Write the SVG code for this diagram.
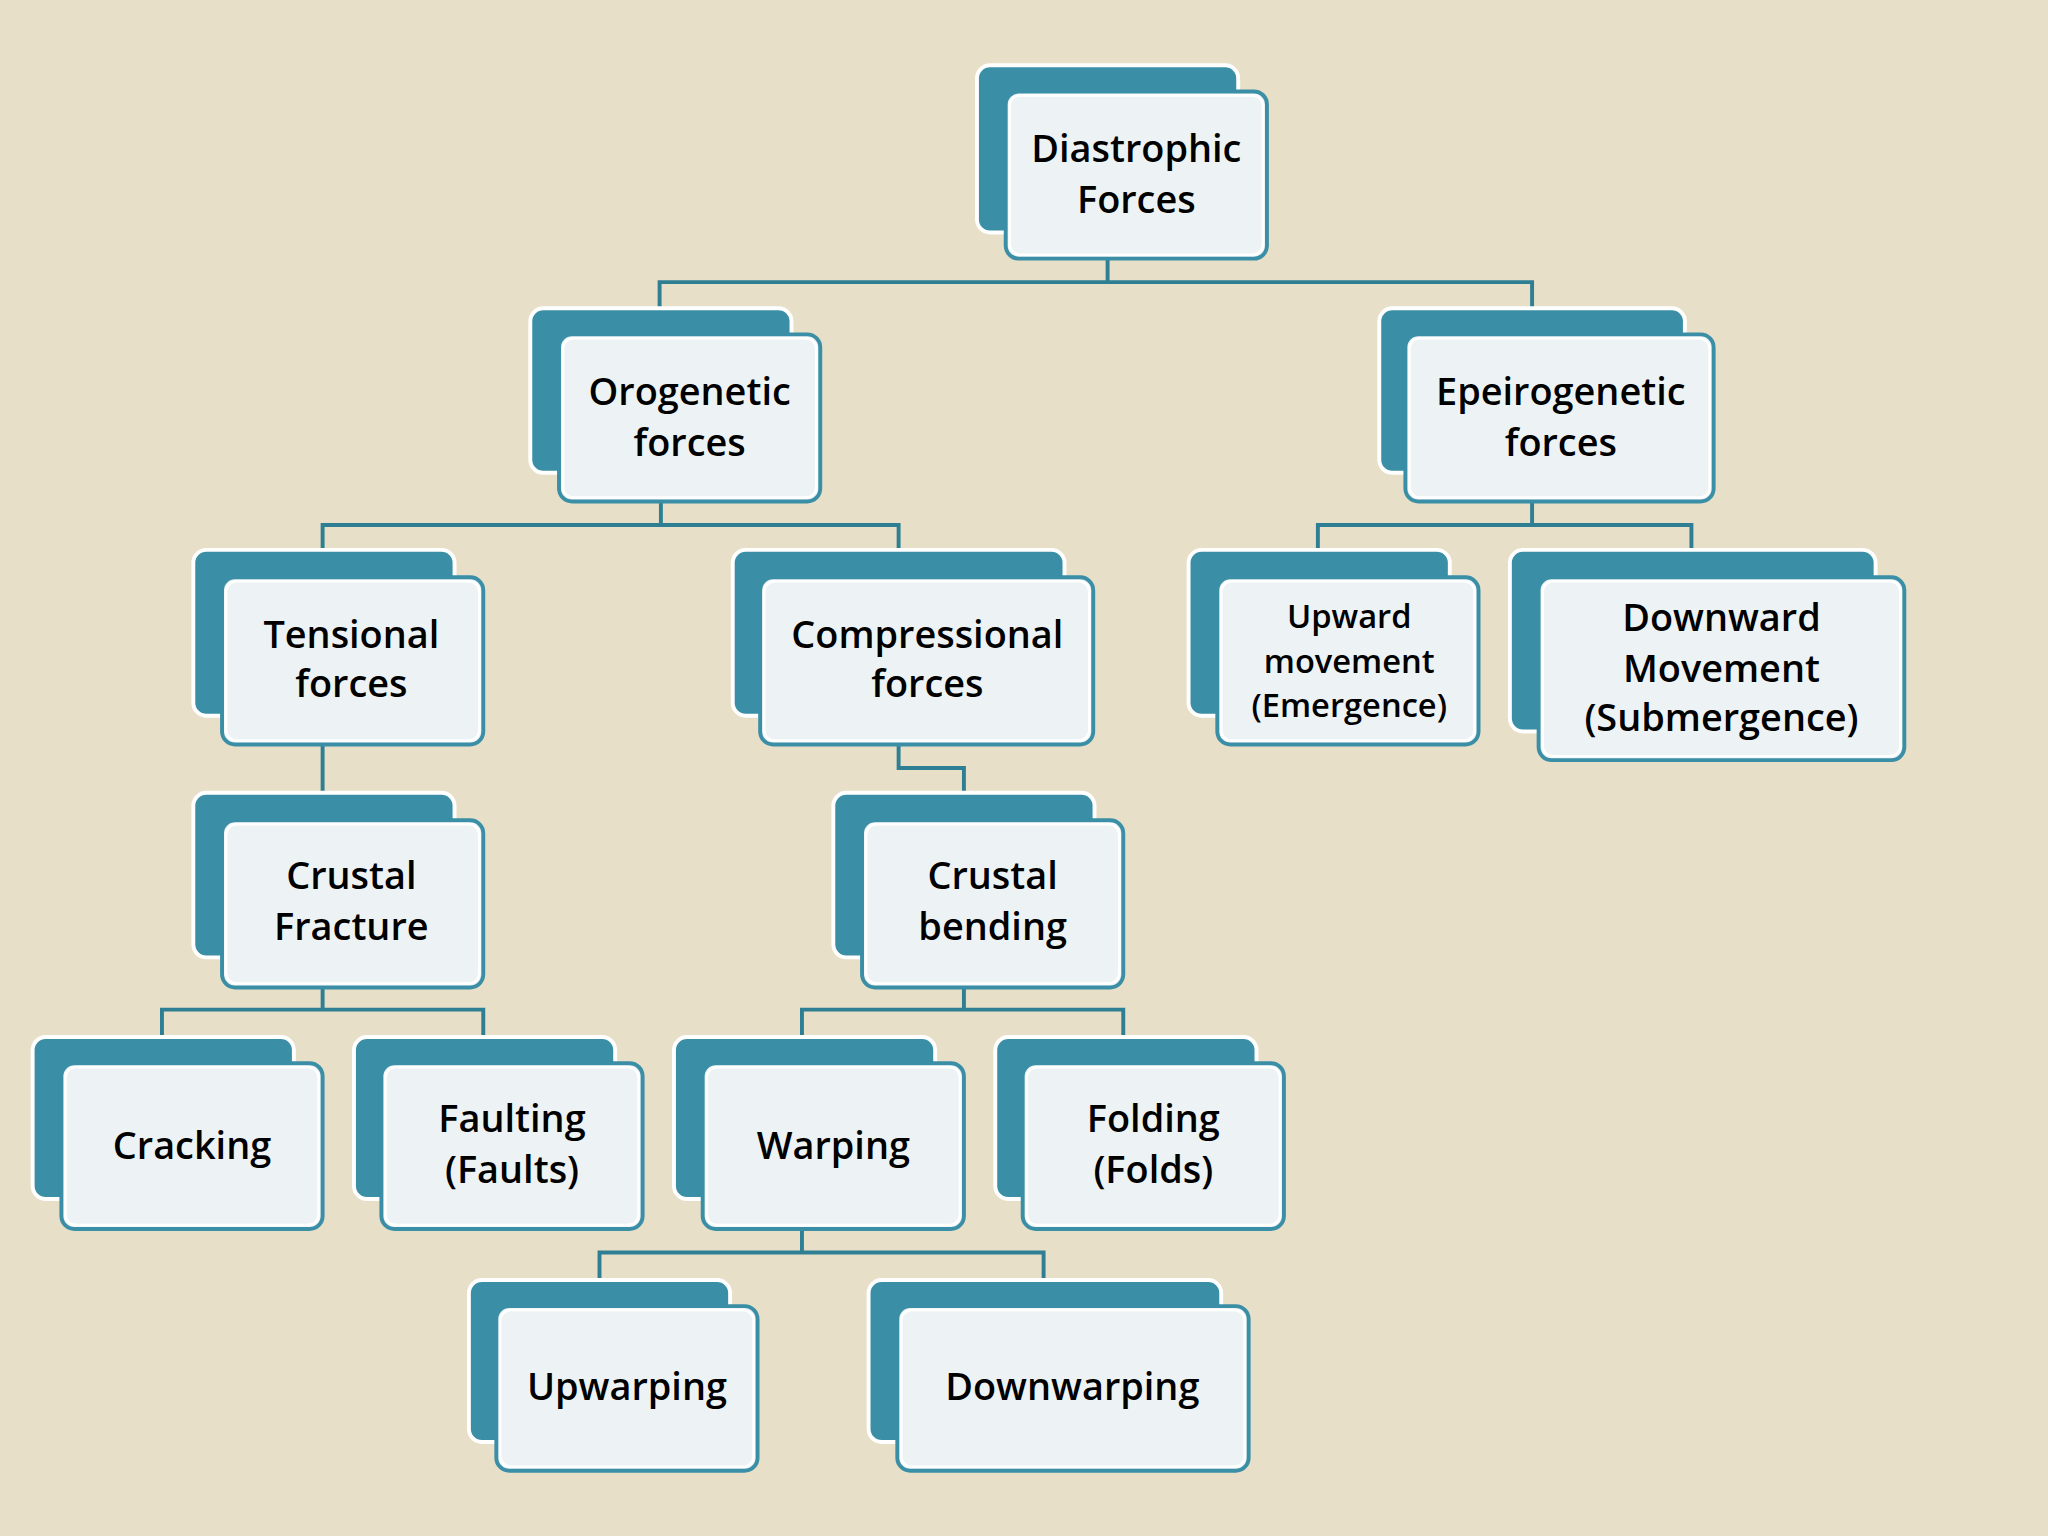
<svg xmlns="http://www.w3.org/2000/svg" width="2048" height="1536" viewBox="0 0 2048 1536">
<style>
.b{fill:#3a8fa6;stroke:#fff;stroke-width:3}
.f{fill:#edf3f5;stroke:#3a8fa6;stroke-width:3}
.fi{fill:none;stroke:#fff;stroke-width:2}
.t{font-family:"Open Sans","DejaVu Sans",sans-serif;font-weight:600;font-size:29px;fill:#000;text-anchor:middle}
.s{font-size:25px}
.c{fill:none;stroke:#2f7f94;stroke-width:3}
</style>
<rect width="2048" height="1536" fill="#e7dfc7"/>
<g transform="scale(1.30612)">
<g id="connectors">
<path class="c" d="M848 198V216M505 236V216H1173V236"/>
<path class="c" d="M506 384V402M247 421V402H688V421"/>
<path class="c" d="M1173 384V402M1009 421V402H1295V421"/>
<path class="c" d="M247 570V607"/>
<path class="c" d="M688 570V588H738V607"/>
<path class="c" d="M247 756V773M124 794V773H370V794"/>
<path class="c" d="M738 756V773M614 794V773H860V794"/>
<path class="c" d="M614 941V959M459 980V959H799V980"/>
</g>
<g id="diastrophic"><rect class="b" x="748" y="50" width="200" height="128" rx="10"/><rect class="f" x="770" y="70" width="200" height="128" rx="10"/><rect class="fi" x="773" y="73" width="194" height="122" rx="8"/><text class="t" x="870" y="124">Diastrophic</text><text class="t" x="870" y="163">Forces</text></g>
<g id="orogenetic"><rect class="b" x="406" y="236" width="200" height="126" rx="10"/><rect class="f" x="428" y="256" width="200" height="128" rx="10"/><rect class="fi" x="431" y="259" width="194" height="122" rx="8"/><text class="t" x="528" y="310">Orogenetic</text><text class="t" x="528" y="349">forces</text></g>
<g id="epeirogenetic"><rect class="b" x="1056" y="236" width="234" height="126" rx="10"/><rect class="f" x="1076" y="256" width="236" height="128" rx="10"/><rect class="fi" x="1079" y="259" width="230" height="122" rx="8"/><text class="t" x="1195" y="310">Epeirogenetic</text><text class="t" x="1195" y="349">forces</text></g>
<g id="tensional"><rect class="b" x="148" y="421" width="200" height="127" rx="10"/><rect class="f" x="170" y="442" width="200" height="128" rx="10"/><rect class="fi" x="173" y="445" width="194" height="122" rx="8"/><text class="t" x="269" y="496">Tensional</text><text class="t" x="269" y="534">forces</text></g>
<g id="compressional"><rect class="b" x="561" y="421" width="254" height="127" rx="10"/><rect class="f" x="582" y="442" width="255" height="128" rx="10"/><rect class="fi" x="585" y="445" width="249" height="122" rx="8"/><text class="t" x="710" y="496">Compressional</text><text class="t" x="710" y="534">forces</text></g>
<g id="upward"><rect class="b" x="910" y="421" width="200" height="127" rx="10"/><rect class="f" x="932" y="442" width="200" height="128" rx="10"/><rect class="fi" x="935" y="445" width="194" height="122" rx="8"/><text class="t s" x="1033" y="481">Upward</text><text class="t s" x="1033" y="515">movement</text><text class="t s" x="1033" y="549">(Emergence)</text></g>
<g id="downward"><rect class="b" x="1156" y="421" width="280" height="139" rx="10"/><rect class="f" x="1178" y="442" width="280" height="140" rx="10"/><rect class="fi" x="1181" y="445" width="274" height="134" rx="8"/><text class="t" x="1318" y="483">Downward</text><text class="t" x="1318" y="522">Movement</text><text class="t" x="1318" y="560">(Submergence)</text></g>
<g id="fracture"><rect class="b" x="148" y="607" width="200" height="126" rx="10"/><rect class="f" x="170" y="628" width="200" height="128" rx="10"/><rect class="fi" x="173" y="631" width="194" height="122" rx="8"/><text class="t" x="269" y="681">Crustal</text><text class="t" x="269" y="720">Fracture</text></g>
<g id="bending"><rect class="b" x="638" y="607" width="200" height="126" rx="10"/><rect class="f" x="660" y="628" width="200" height="128" rx="10"/><rect class="fi" x="663" y="631" width="194" height="122" rx="8"/><text class="t" x="760" y="681">Crustal</text><text class="t" x="760" y="720">bending</text></g>
<g id="cracking"><rect class="b" x="25" y="794" width="200" height="124" rx="10"/><rect class="f" x="47" y="814" width="200" height="127" rx="10"/><rect class="fi" x="50" y="817" width="194" height="121" rx="8"/><text class="t" x="147" y="887">Cracking</text></g>
<g id="faulting"><rect class="b" x="271" y="794" width="200" height="124" rx="10"/><rect class="f" x="292" y="814" width="200" height="127" rx="10"/><rect class="fi" x="295" y="817" width="194" height="121" rx="8"/><text class="t" x="392" y="867">Faulting</text><text class="t" x="392" y="906">(Faults)</text></g>
<g id="warping"><rect class="b" x="516" y="794" width="200" height="124" rx="10"/><rect class="f" x="538" y="814" width="200" height="127" rx="10"/><rect class="fi" x="541" y="817" width="194" height="121" rx="8"/><text class="t" x="638" y="887">Warping</text></g>
<g id="folding"><rect class="b" x="762" y="794" width="200" height="124" rx="10"/><rect class="f" x="783" y="814" width="200" height="127" rx="10"/><rect class="fi" x="786" y="817" width="194" height="121" rx="8"/><text class="t" x="883" y="867">Folding</text><text class="t" x="883" y="906">(Folds)</text></g>
<g id="upwarping"><rect class="b" x="359" y="980" width="200" height="124" rx="10"/><rect class="f" x="380" y="1000" width="200" height="126" rx="10"/><rect class="fi" x="383" y="1003" width="194" height="120" rx="8"/><text class="t" x="480" y="1072">Upwarping</text></g>
<g id="downwarping"><rect class="b" x="665" y="980" width="270" height="124" rx="10"/><rect class="f" x="687" y="1000" width="269" height="126" rx="10"/><rect class="fi" x="690" y="1003" width="263" height="120" rx="8"/><text class="t" x="821" y="1072">Downwarping</text></g>
</g>
</svg>
